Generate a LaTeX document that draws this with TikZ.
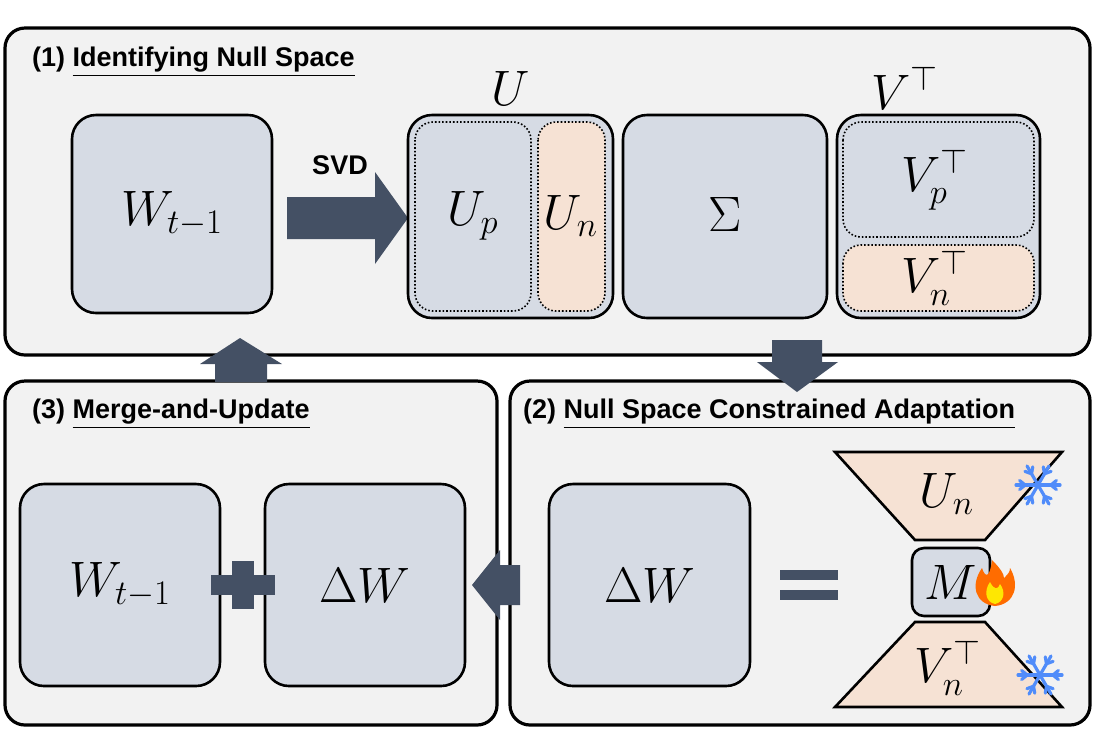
\documentclass[tikz,border=0pt]{standalone}
\usepackage{amsmath}
\usepackage{fontspec}
\setsansfont{Liberation Sans}
\usetikzlibrary{arrows.meta, positioning, shapes.geometric}
\definecolor{panelbg}{RGB}{242,242,242}
\definecolor{boxfill}{RGB}{214,219,228}
\definecolor{peach}{RGB}{246,226,212}
\definecolor{slate}{RGB}{68,80,100}
\definecolor{iceblue}{RGB}{80,140,250}
\tikzset{
  panel/.style={draw, line width=1.6pt, rounded corners=10pt, fill=panelbg},
  mat/.style={draw, line width=1.3pt, rounded corners=12pt, fill=boxfill},
  sub/.style={draw, densely dotted, line width=0.8pt, rounded corners=9pt},
  bigarrow/.style={fill=slate},
  head/.style={font=\sffamily\bfseries\fontsize{13.5}{16}\selectfont, anchor=west},
  mlabel/.style={font=\fontsize{25}{28}\selectfont}
}
\newcommand{\snowflake}[1]{%
  \begin{scope}[shift={#1}, iceblue, line width=1.6pt, line cap=round]
    \foreach \a in {0,60,...,300}{
      \draw (0,0) -- (\a:22);
      \draw (\a:13) -- ++(\a+40:7) (\a:13) -- ++(\a-40:7);
    }
  \end{scope}}
\begin{document}
\begin{tikzpicture}[x=0.5pt, y=-0.5pt]
  \useasboundingbox (0,0) rectangle (1106,752);
  % Panels
  \draw[panel] (5,28) rectangle (1090,355);
  \draw[panel] (5,381) rectangle (497,725);
  \draw[panel] (510,381) rectangle (1090,725);
  \node[head] (h1) at (25,62) {(1) \underline{Identifying Null Space}};
  \node[head] (h3) at (25,414) {(3) \underline{Merge-and-Update}};
  \node[head] (h2) at (516,414) {(2) \underline{Null Space Constrained Adaptation}};

  % Step 1
  \draw[mat] (72,115) rectangle (272,313);
  \node[mlabel] (w1) at (172,214) {$W_{t-1}$};
  \fill[bigarrow] (287,197) -- (375,197) -- (375,172) -- (408,218) -- (375,264) -- (375,239) -- (287,239) -- cycle;
  \node[font=\sffamily\bfseries\fontsize{13.5}{16}\selectfont] (svdl) at (340,165) {SVD};

  \draw[mat] (408,115) rectangle (613,318);
  \draw[sub, fill=boxfill] (415,122) rectangle (531,311);
  \draw[sub, fill=peach] (538,122) rectangle (605,311);
  \node[mlabel] (up) at (473,216) {$U_p$};
  \node[mlabel] (un) at (571,216) {$U_n$};
  \node[mlabel] (ul) at (511,88) {$U$};

  \draw[mat] (623,115) rectangle (827,318);
  \node[mlabel] (sig) at (725,214) {$\Sigma$};

  \draw[mat] (837,115) rectangle (1040,318);
  \draw[sub, fill=boxfill] (843,122) rectangle (1034,237);
  \draw[sub, fill=peach] (843,245) rectangle (1034,311);
  \node[mlabel] (vp) at (935,180) {$V_p^{\top}$};
  \node[mlabel] (vn) at (935,278) {$V_n^{\top}$};
  \node[mlabel] (vl) at (905,88) {$V^{\top}$};

  % Connecting arrows
  \fill[bigarrow] (772,340) -- (822,340) -- (822,362) -- (838,362) -- (797,392) -- (757,362) -- (772,362) -- cycle;
  \fill[bigarrow] (215,382) -- (267,382) -- (267,364) -- (282,364) -- (240,338) -- (200,364) -- (215,364) -- cycle;
  \fill[bigarrow] (520,565) -- (500,565) -- (500,550) -- (472,585) -- (500,620) -- (500,605) -- (520,605) -- cycle;

  % Step 3
  \draw[mat] (20,484) rectangle (220,686);
  \node[mlabel] (w3) at (120,585) {$W_{t-1}$};
  \draw[mat] (265,484) rectangle (465,686);
  \node[mlabel] (dw3) at (365,585) {$\Delta W$};
  \fill[slate] (232,561) rectangle (254,609);
  \fill[slate] (211,575) rectangle (275,595);

  % Step 2
  \draw[mat] (549,484) rectangle (750,686);
  \node[mlabel] (dw2) at (650,585) {$\Delta W$};
  \fill[slate] (780,570) rectangle (838,580);
  \fill[slate] (780,590) rectangle (838,600);

  \draw[line width=1.3pt, fill=peach] (835,452) -- (1062,452) -- (985,540) -- (915,540) -- cycle;
  \draw[line width=1.3pt, fill=peach] (915,622) -- (985,622) -- (1062,707) -- (835,707) -- cycle;
  \draw[mat, rounded corners=6pt] (912,548) rectangle (990,616);
  \node[mlabel] (unb) at (947,494) {$U_n$};
  \node[mlabel] (m) at (951,582) {$M$};
  \node[mlabel] (vnb) at (948,668) {$V_n^{\top}$};
  \snowflake{(1038,485)}
  \snowflake{(1040,675)}
  % Fire
  \fill[orange!85!red] (995,606) .. controls (975,604) and (970,585) .. (982,568)
    .. controls (985,578) and (990,578) .. (992,560) .. controls (1000,568) and (1004,574) .. (1004,578)
    .. controls (1008,574) and (1010,572) .. (1010,568) .. controls (1020,585) and (1015,604) .. (995,606);
  \fill[yellow!90!orange] (995,604) .. controls (985,602) and (984,590) .. (990,582)
    .. controls (994,590) and (998,590) .. (1000,584) .. controls (1006,592) and (1004,602) .. (995,604);
\end{tikzpicture}
\end{document}
